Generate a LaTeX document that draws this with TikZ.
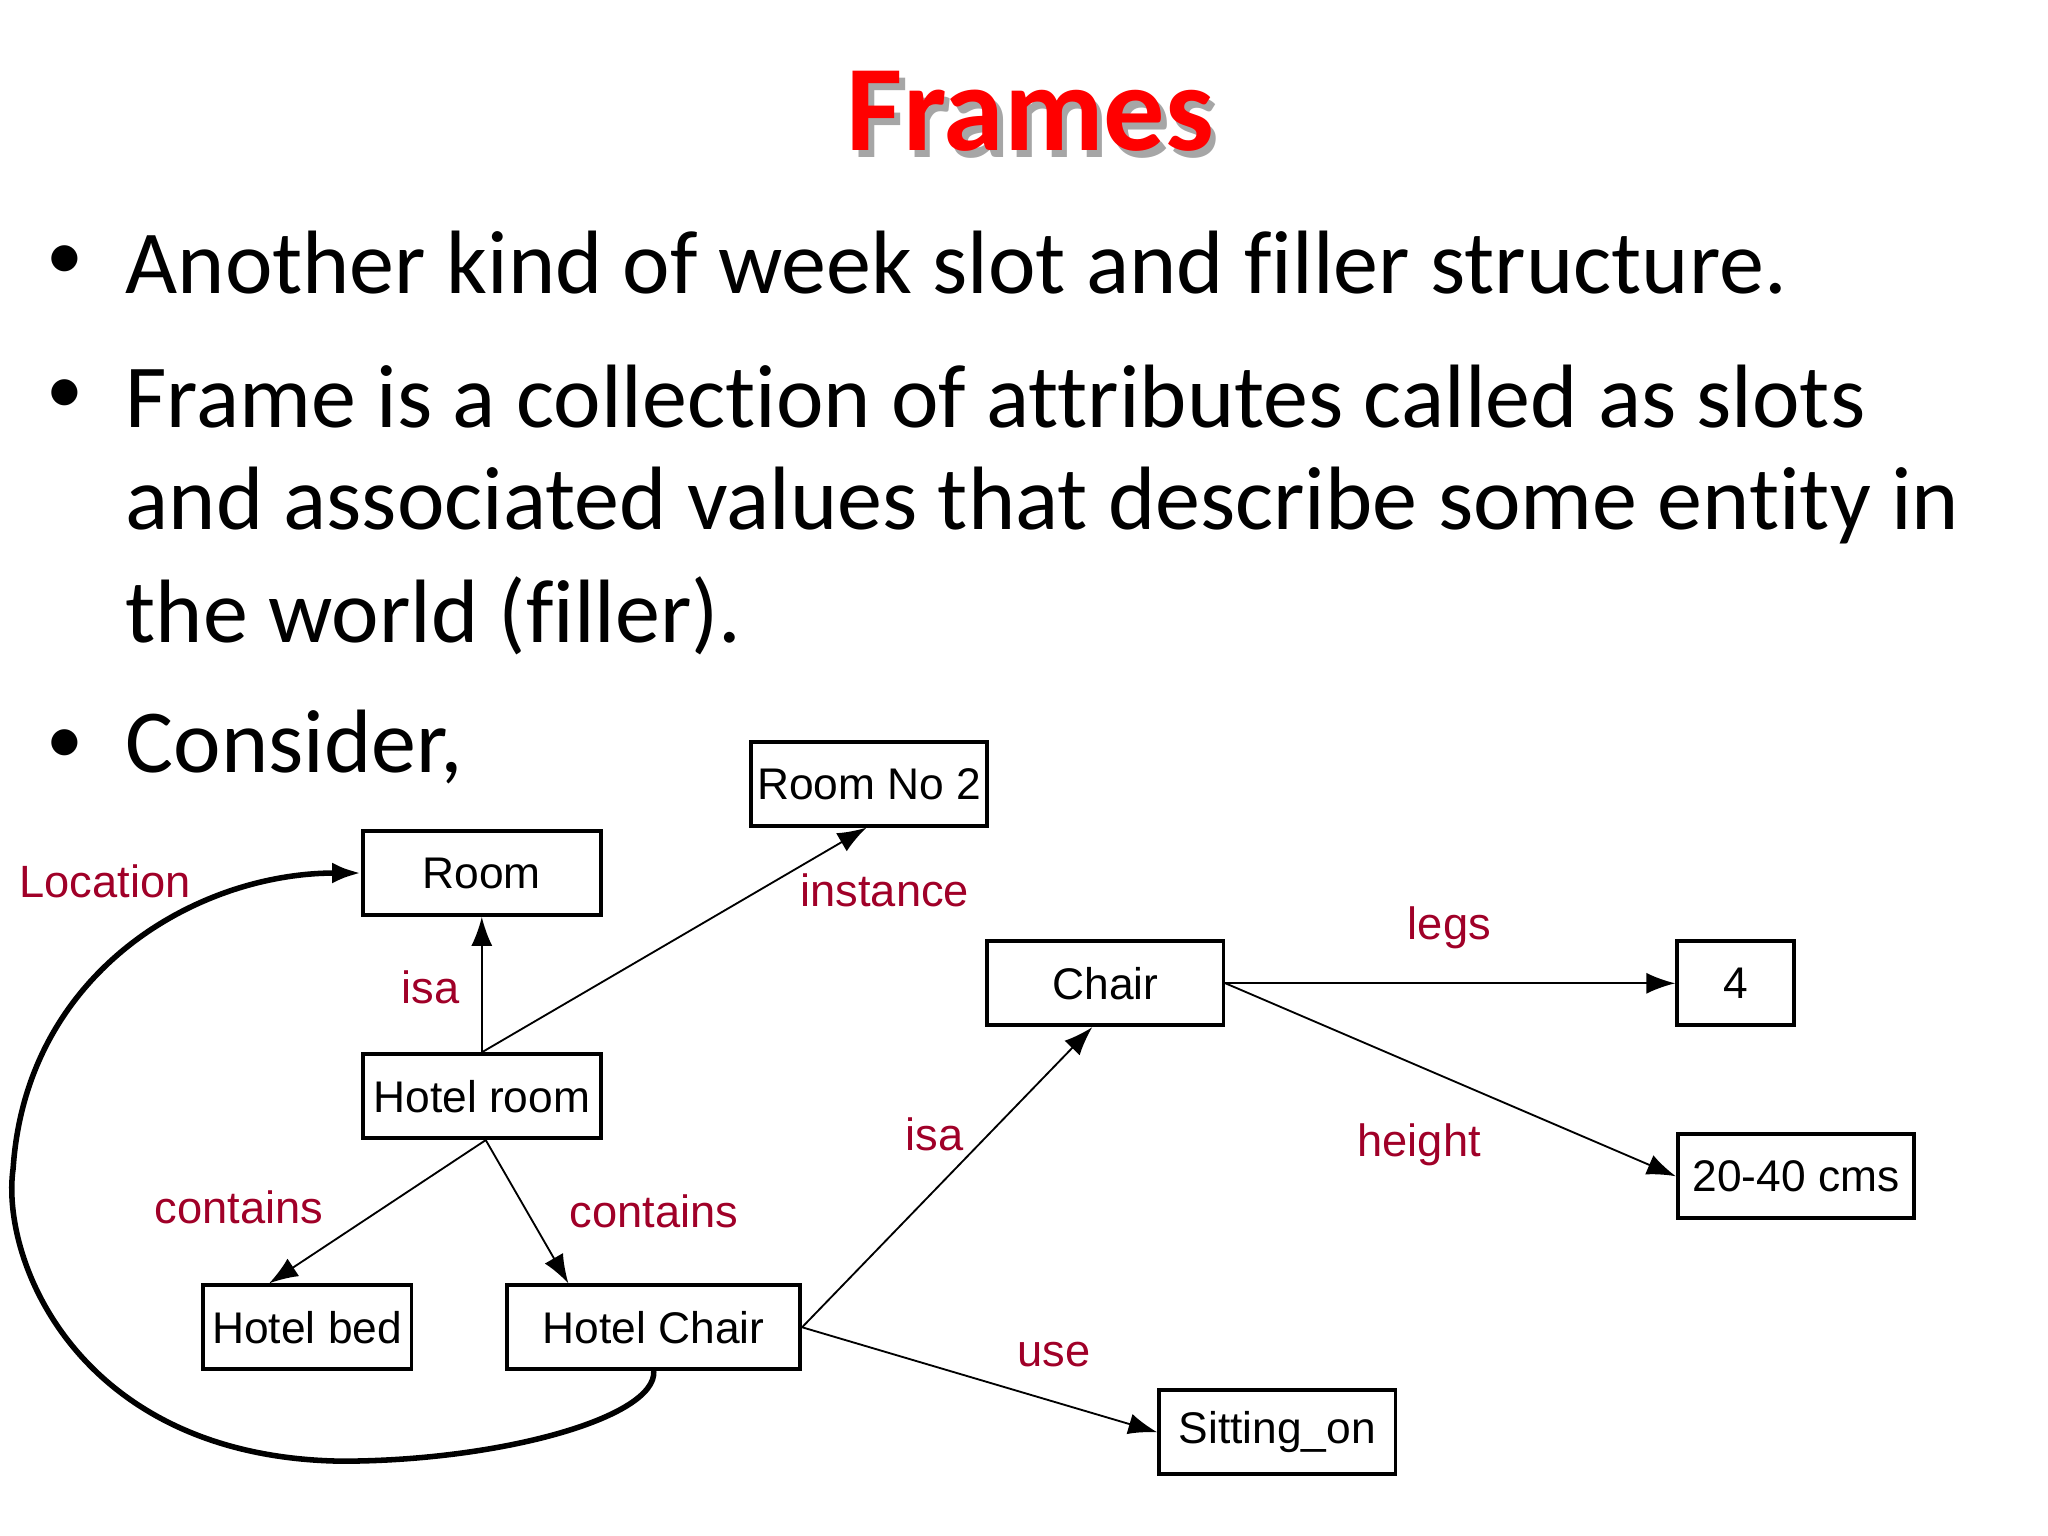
\documentclass[tikz,border=0pt]{standalone}
\usepackage{fontspec}
\setmainfont[Ligatures={NoCommon}]{Carlito}
\newfontfamily\boxfont{Liberation Sans}
\usetikzlibrary{positioning,arrows.meta}
\definecolor{slotred}{RGB}{160,0,40}
\begin{document}
\begin{tikzpicture}[x=0.01cm,y=-0.01cm,
	frame/.style={draw,line width=0.8pt,minimum height=0.64cm,inner sep=1pt,font=\boxfont\fontsize{9.6}{12}\selectfont},
	slot/.style={text=slotred,font=\boxfont\fontsize{9.8}{12}\selectfont},
	link/.style={-{Latex[length=2.2mm,width=1.6mm]},thin},
	bullet/.style={anchor=west,font=\fontsize{19.5}{23}\selectfont,inner sep=0pt}]

		\useasboundingbox (0,0) rectangle (1560,1170);

		% title
		\node[text=gray!70,font=\bfseries\fontsize{26.5}{30}\selectfont] at (789,90) {Frames};
		\node[text=red,font=\bfseries\fontsize{26.5}{30}\selectfont] (title) at (785,85) {Frames};

		% bullets
		\foreach \y in {200,302,569}
			\node[bullet,font=\fontsize{16}{20}\selectfont] at (35,\y) {\textbullet};
		\node[bullet] (b1) at (95,200) {Another kind of week slot and filler structure.};
		\node[bullet] (b2) at (95,302) {Frame is a collection of attributes called as slots};
		\node[bullet] (b3) at (95,385) {and associated values that describe some entity in};
		\node[bullet] (b4) at (95,469) {the world (filler).};
		\node[bullet] (b5) at (95,569) {Consider,};

		% frames
		\node[frame,minimum width=1.80cm] (roomno) at (662,597) {Room No 2};
		\node[frame,minimum width=1.81cm] (room) at (367,665) {Room};
		\node[frame,minimum width=1.81cm] (hroom) at (367,835) {Hotel room};
		\node[frame,minimum width=1.59cm] (hbed) at (234,1011) {Hotel bed};
		\node[frame,minimum width=2.23cm] (hchair) at (498,1011) {Hotel Chair};
		\node[frame,minimum width=1.80cm] (chair) at (842,749) {Chair};
		\node[frame,minimum width=0.89cm] (four) at (1322,749) {4};
		\node[frame,minimum width=1.80cm] (cms) at (1368,896) {20-40 cms};
		\node[frame,minimum width=1.80cm] (sit) at (973,1091) {Sitting\_on};

		% slots
		\draw[link] (hroom.north) -- (room.south);
		\draw[link] (hroom.north) -- ([xshift=-0.02cm]roomno.south);
		\draw[link] ([xshift=0.03cm]hroom.south) -- ([xshift=-0.29cm]hbed.north);
		\draw[link] ([xshift=0.03cm]hroom.south) -- ([xshift=-0.65cm]hchair.north);
		\draw[link] (hchair.east) -- ([xshift=-0.1cm]chair.south);
		\draw[link] (hchair.east) -- (sit.west);
		\draw[link] (chair.east) -- (four.west);
		\draw[link] (chair.east) -- (cms.west);
		\draw[link,line width=1.2pt] (hchair.south) .. controls (500,1080) and (380,1113) .. (260,1113)
			.. controls (60,1110) and (0,960) .. (10,890)
			.. controls (20,740) and (150,665) .. (room.west);

		\node[slot] at (328,752) {isa};
		\node[slot] at (674,678) {instance};
		\node[slot] at (182,920) {contains};
		\node[slot] at (498,923) {contains};
		\node[slot] at (712,864) {isa};
		\node[slot] at (803,1032) {use};
		\node[slot] at (1104,707) {legs};
		\node[slot] at (1081,872) {height};
		\node[slot] at (80,671) {Location};

\end{tikzpicture}
\end{document}
